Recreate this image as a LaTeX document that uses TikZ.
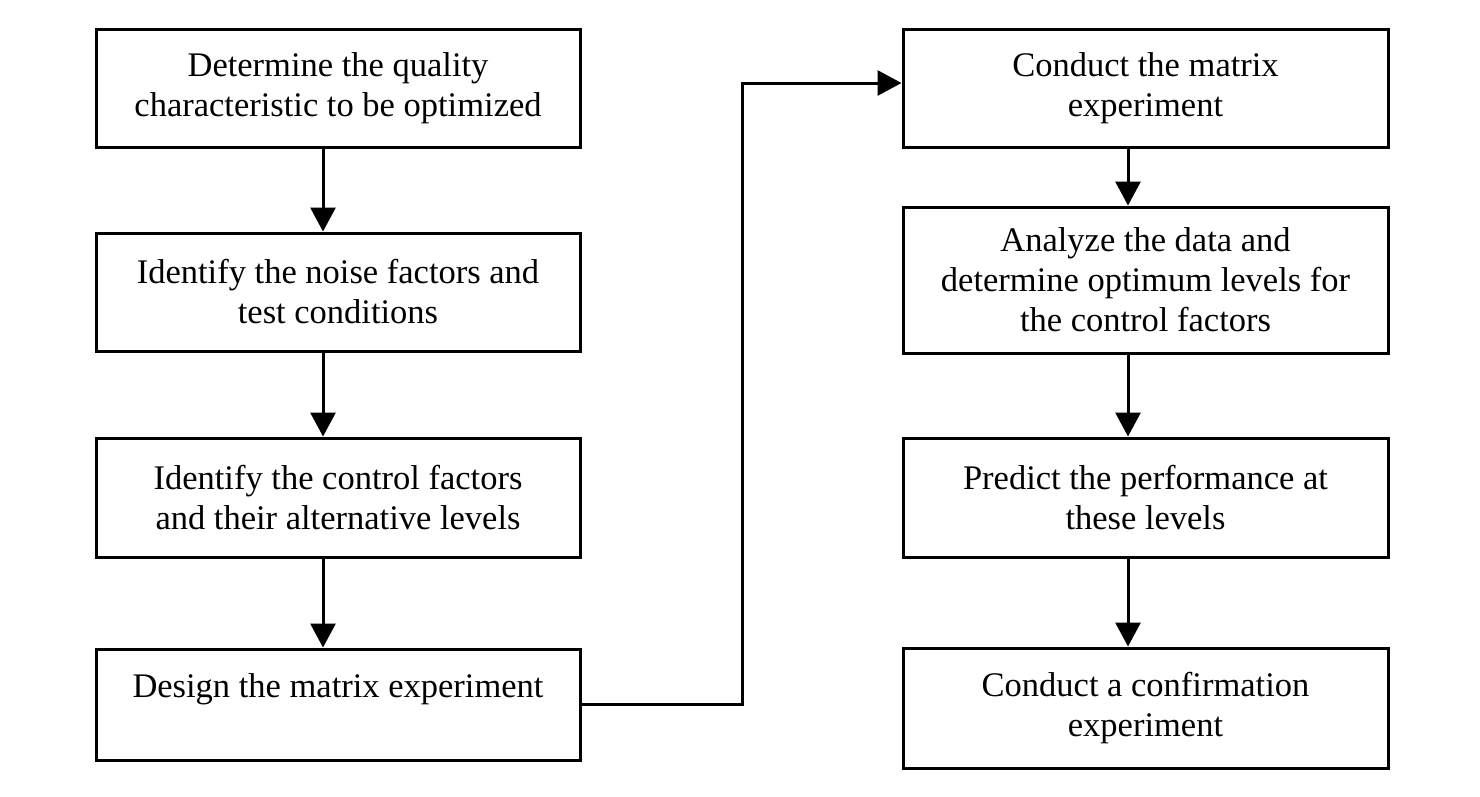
\documentclass[tikz,border=0pt]{standalone}
\usepackage{fontspec}
\setmainfont{Liberation Serif}
\usetikzlibrary{arrows.meta}
\begin{document}
\begin{tikzpicture}[x=1pt,y=-1pt,
  stepbox/.style={draw=black,line width=3pt,rectangle,inner sep=0pt,align=center,
    font=\fontsize{34.5}{40}\selectfont},
  arr/.style={line width=3pt,-{Triangle[length=24pt,width=25pt]}},
  conn/.style={line width=3pt}]
\useasboundingbox (0,0) rectangle (1480,796);
% left column
\node[stepbox,minimum width=484pt,minimum height=118pt] (b1) at (338,88) {Determine the quality\\characteristic to be optimized};
\node[stepbox,minimum width=484pt,minimum height=118pt] (b2) at (338,292) {Identify the noise factors and\\test conditions};
\node[stepbox,minimum width=484pt,minimum height=119pt] (b3) at (338,497.5) {Identify the control factors\\and their alternative levels};
\node[stepbox,minimum width=484pt,minimum height=111pt] (b4) at (338,704.5) {};
\node[font=\fontsize{34.5}{40}\selectfont] (t4) at (338,689) {Design the matrix experiment};
% right column
\node[stepbox,minimum width=485pt,minimum height=118pt] (r1) at (1145.5,88) {Conduct the matrix\\experiment};
\node[stepbox,minimum width=485pt,minimum height=146pt] (r2) at (1145.5,280) {Analyze the data and\\determine optimum levels for\\the control factors};
\node[stepbox,minimum width=485pt,minimum height=119pt] (r3) at (1145.5,497.5) {Predict the performance at\\these levels};
\node[stepbox,minimum width=485pt,minimum height=120pt] (r4) at (1145.5,708) {Conduct a confirmation\\experiment};
% arrow columns
\coordinate (ax) at (323,0);
\coordinate (bx) at (1128,0);
\coordinate (cx) at (742,0);
\draw[arr] (b1.south -| ax) -- (b2.north -| ax);
\draw[arr] (b2.south -| ax) -- (b3.north -| ax);
\draw[arr] (b3.south -| ax) -- (b4.north -| ax);
\draw[arr] (r1.south -| bx) -- (r2.north -| bx);
\draw[arr] (r2.south -| bx) -- (r3.north -| bx);
\draw[arr] (r3.south -| bx) -- (r4.north -| bx);
\coordinate (ry) at (0,83);
\draw[arr] (b4.east) -- (b4.east -| cx) -- (ry -| cx) -- (ry -| r1.west);
\end{tikzpicture}
\end{document}
